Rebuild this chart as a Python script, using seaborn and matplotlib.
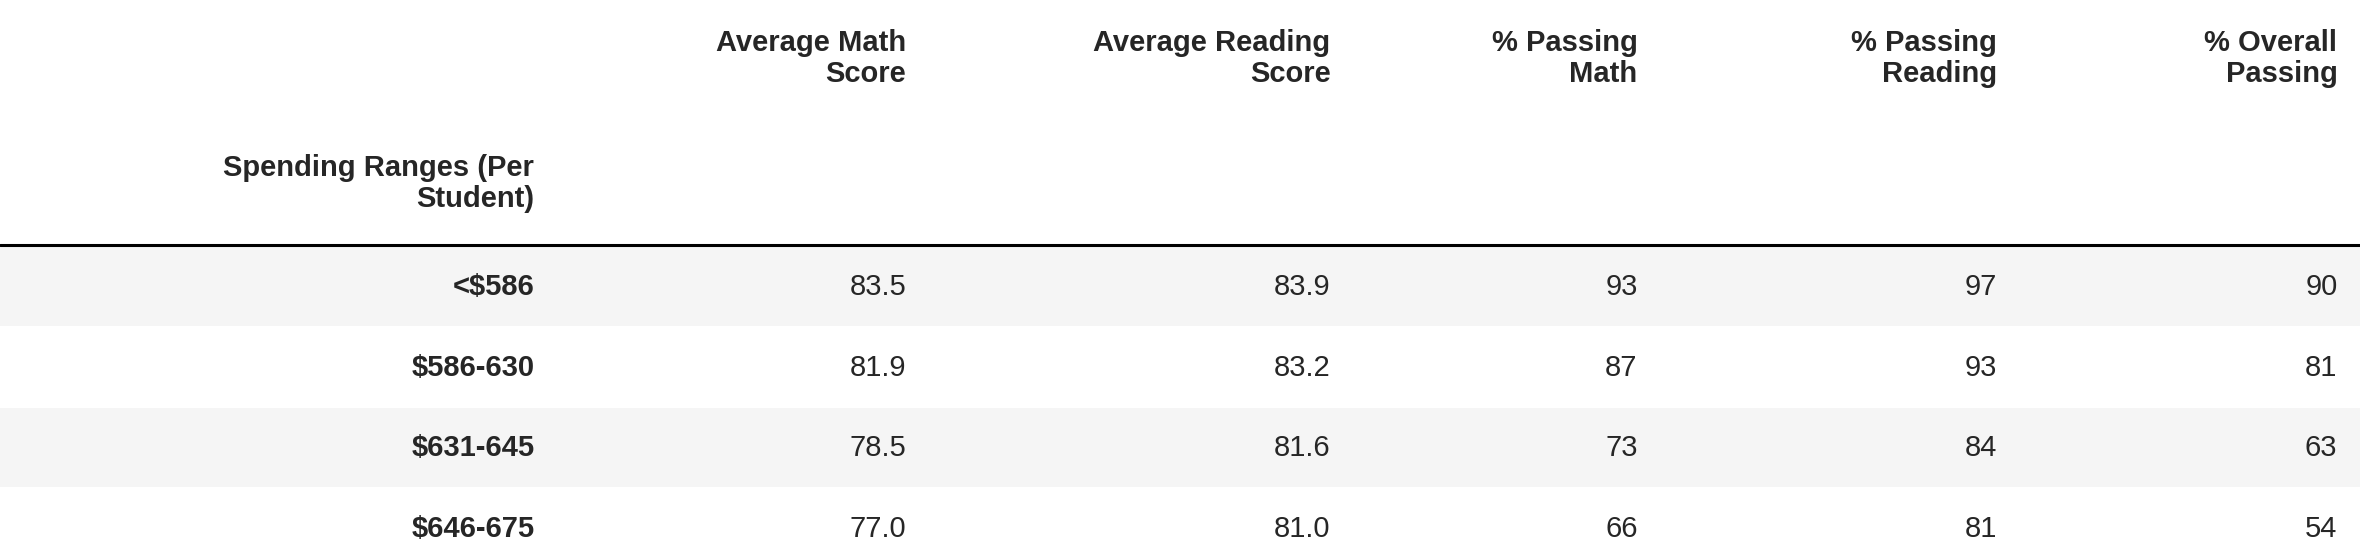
import matplotlib
matplotlib.use("Agg")
import matplotlib.pyplot as plt
import seaborn as sns
import pandas as pd

sns.set_theme(style="white")
plt.rcParams['font.family'] = ['Liberation Sans', 'DejaVu Sans']

index_name = "Spending Ranges (Per\nStudent)"
ranges = ["<$586", "$586-630", "$631-645", "$646-675"]
columns = ["Average Math\nScore", "Average Reading\nScore", "% Passing\nMath", "% Passing\nReading", "% Overall\nPassing"]
avg_math = [83.5, 81.9, 78.5, 77.0]
avg_reading = [83.9, 83.2, 81.6, 81.0]
pass_math = [93, 87, 73, 66]
pass_reading = [97, 93, 84, 81]
overall = [90, 81, 63, 54]
fmts = ["{:.1f}", "{:.1f}", "{:.0f}", "{:.0f}", "{:.0f}"]

df = pd.DataFrame({c: v for c, v in zip(columns, [avg_math, avg_reading, pass_math, pass_reading, overall])}, index=ranges)

W, H = 1568, 372
fig = plt.figure(figsize=(23.6, 5.6), dpi=100)
ax = fig.add_axes([0, 0, 1, 1])
ax.set_xlim(0, W)
ax.set_ylim(H, 0)
ax.axis("off")

col_right = [602, 884, 1088, 1327, 1553]
idx_right = 355
header_y = 39
row_top = 163
row_h = 53.5
fs = 21

for c, x in zip(columns, col_right):
    ax.text(x, header_y, c, ha="right", va="center", fontsize=fs, fontweight="bold", linespacing=1.15)
ax.text(idx_right, 122, index_name, ha="right", va="center", fontsize=fs, fontweight="bold", linespacing=1.15)
ax.axhline(row_top, color="black", lw=2.2)

for i, r in enumerate(df.index):
    y0 = row_top + i * row_h
    if i % 2 == 0:
        ax.axhspan(y0 + 1, y0 + row_h, color="#f5f5f5", zorder=0, lw=0)
    yc = y0 + row_h / 2 + 1
    ax.text(idx_right, yc, r, ha="right", va="center", fontsize=fs, fontweight="bold")
    for c, x, f in zip(columns, col_right, fmts):
        ax.text(x, yc, f.format(df.loc[r, c]), ha="right", va="center", fontsize=fs)

fig.savefig("out.png", dpi=100)
